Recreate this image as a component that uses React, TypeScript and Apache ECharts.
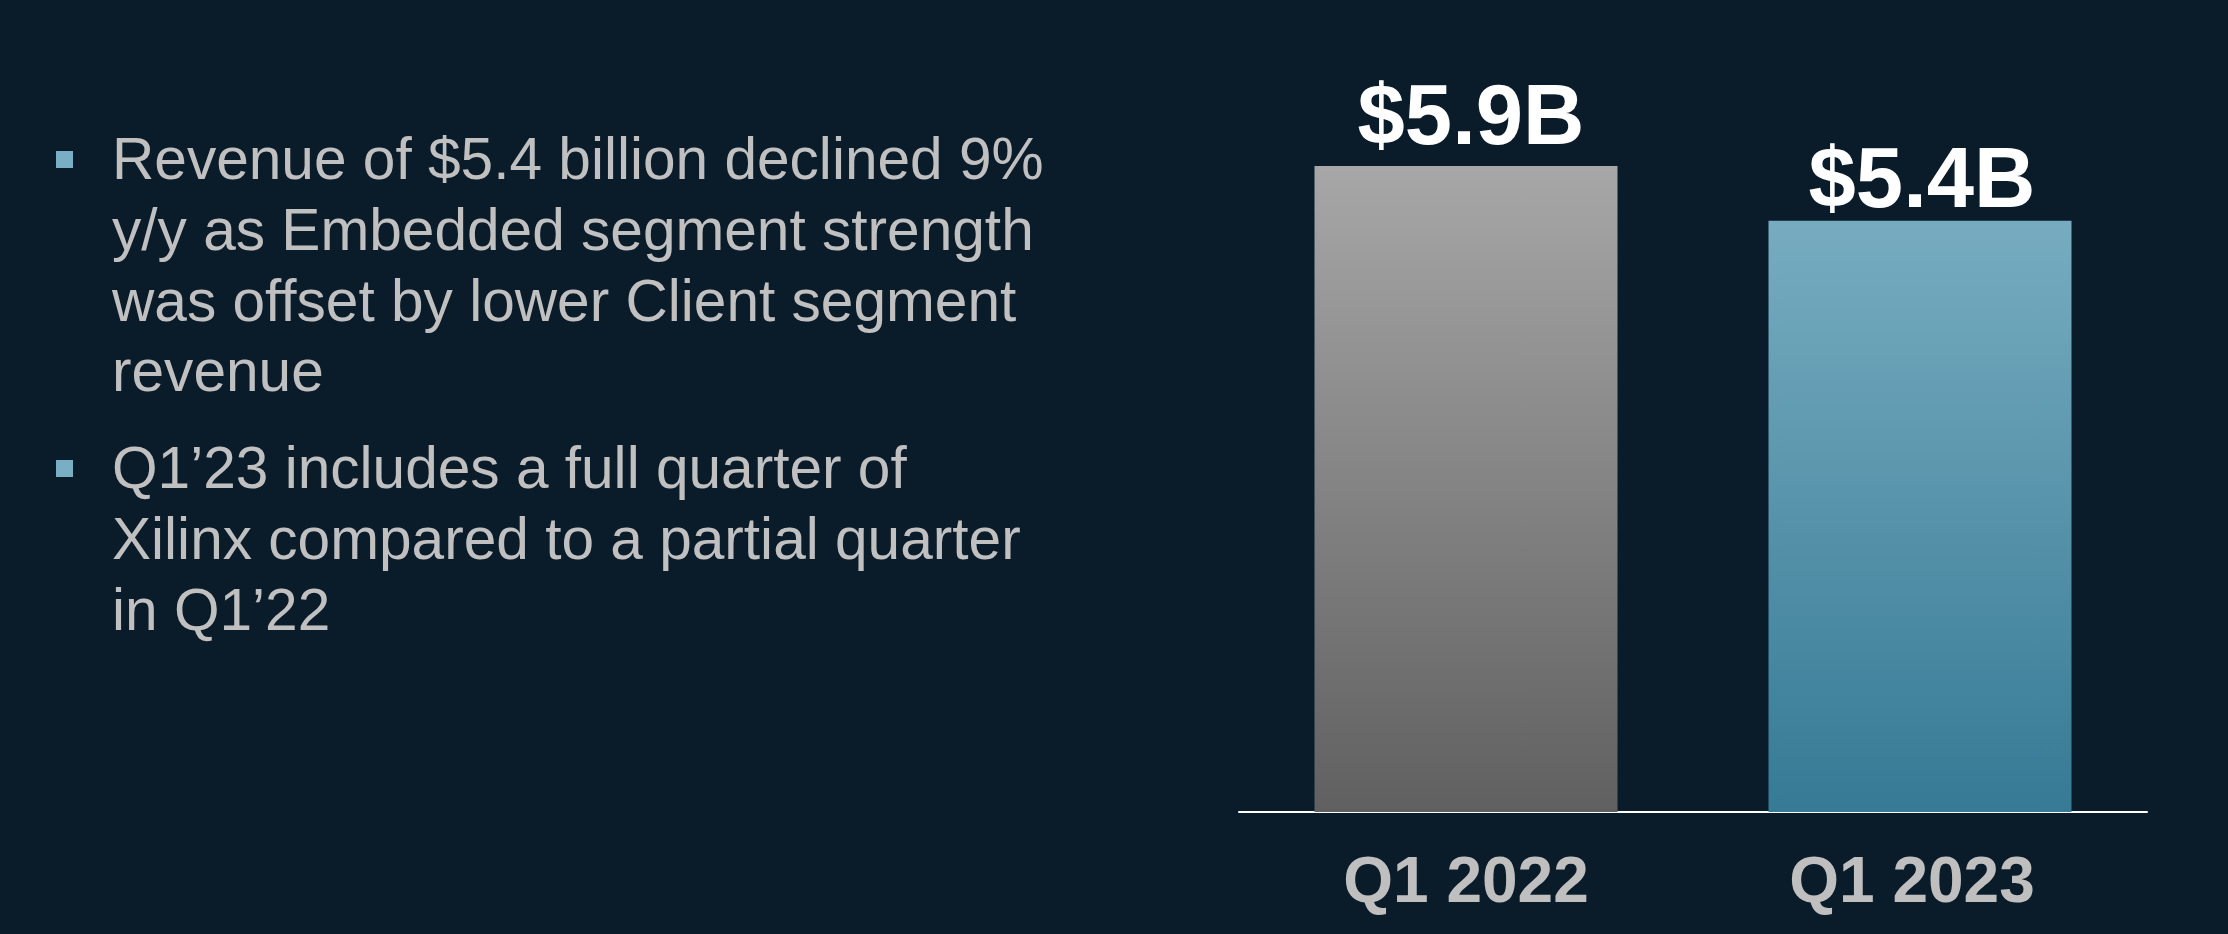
import React, { useEffect, useRef } from "react";
import * as echarts from "echarts";

// Quarterly revenue, billions of USD
const quarters = ["Q1 2022", "Q1 2023"];
const revenue = [5.9, 5.4];
const valueLabels = ["$5.9B", "$5.4B"];

// Gradient stops per bar (top, bottom)
const barTopColors = ["#A7A7A7", "#77ACC0"];
const barBottomColors = ["#606060", "#367A95"];

const bulletPoints = [
  "Revenue of $5.4 billion declined 9%\ny/y as Embedded segment strength\nwas offset by lower Client segment\nrevenue",
  "Q1\u201923 includes a full quarter of\nXilinx compared to a partial quarter\nin Q1\u201922",
];

const FONT = "'Liberation Sans', Arial, Helvetica, sans-serif";
const BG = "#0A1B2A";

export default function App() {
  const ref = useRef<HTMLDivElement>(null);

  useEffect(() => {
    document.body.style.margin = "0";
    if (!ref.current) return;
    const chart = echarts.init(ref.current, undefined, { renderer: "svg" });

    const bulletTops = [123, 432];
    const squareTops = [151, 460];

    const graphics: any[] = [];
    bulletPoints.forEach((txt, i) => {
      graphics.push({
        type: "rect",
        shape: { x: 56, y: squareTops[i], width: 17, height: 17 },
        style: { fill: "#78AFC4" },
      });
      graphics.push({
        type: "text",
        x: 112,
        y: bulletTops[i],
        style: {
          text: txt,
          fill: "#C0C0C0",
          font: `58.6px ${FONT}`,
          lineHeight: 70.8,
          verticalAlign: "top",
          align: "left",
        },
      });
    });

    chart.setOption({
      animation: false,
      backgroundColor: BG,
      grid: { left: 1239, right: 81, top: 166, bottom: 122, containLabel: false },
      xAxis: {
        type: "category",
        data: quarters.map((q, i) =>
          i === 1 ? { value: q, textStyle: { padding: [0, 16, 0, 0] } } : q
        ),
        axisLine: { show: true, lineStyle: { color: "#FFFFFF", width: 2 } },
        axisTick: { show: false },
        axisLabel: {
          color: "#BFBFBF",
          fontFamily: FONT,
          fontWeight: "bold",
          fontSize: 64,
          lineHeight: 64,
          margin: 36,
        },
      },
      yAxis: {
        type: "value",
        min: 0,
        max: 5.9,
        show: false,
        splitLine: { show: false },
      },
      series: [
        {
          type: "bar",
          barWidth: 303,
          data: revenue.map((v, i) => ({
            value: v,
            itemStyle: {
              color: new echarts.graphic.LinearGradient(0, 0, 0, 1, [
                { offset: 0, color: barTopColors[i] },
                { offset: 1, color: barBottomColors[i] },
              ]),
            },
            label: i === 1 ? { offset: [2, 8] } : { offset: [5, 0] },
          })),
          label: {
            show: true,
            position: "top",
            distance: 9,
            color: "#FFFFFF",
            fontFamily: FONT,
            fontWeight: "bold",
            fontSize: 85,
            lineHeight: 85,
            formatter: (p: any) => valueLabels[p.dataIndex],
          },
        },
      ],
      graphic: graphics,
    });

    return () => chart.dispose();
  }, []);

  return (
    <div
      ref={ref}
      style={{ position: "absolute", left: 0, top: 0, width: 2228, height: 934 }}
    />
  );
}
